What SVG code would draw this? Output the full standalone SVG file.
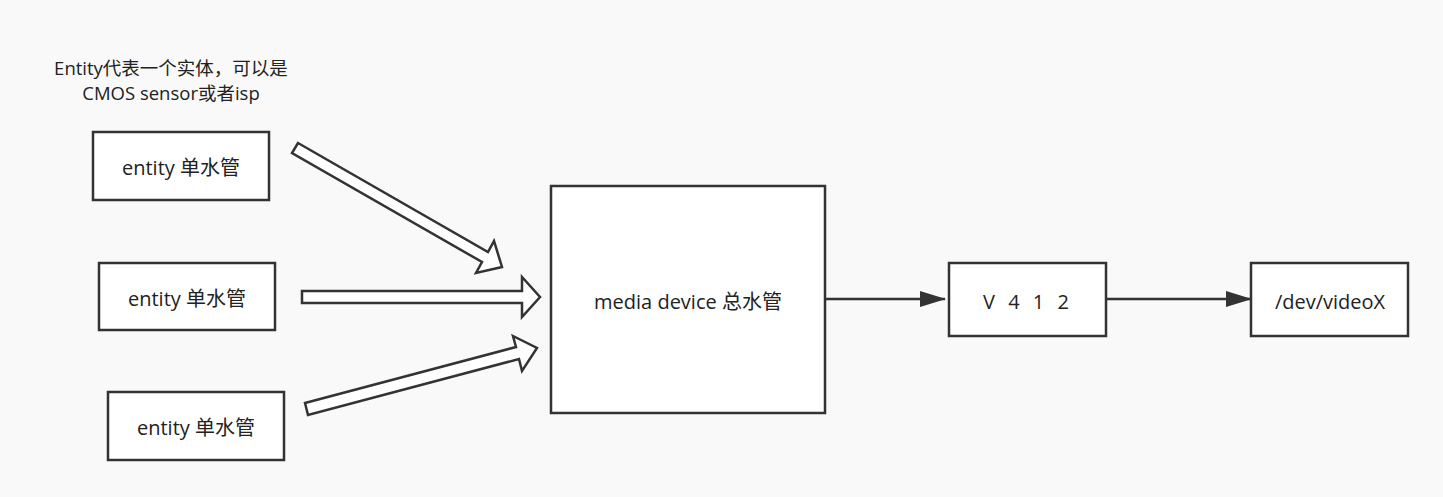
<svg xmlns="http://www.w3.org/2000/svg" width="1443" height="497" viewBox="0 0 1443 497">
<style>
.b{fill:#fff;stroke:#333;stroke-width:2.5}
.t{font-family:"Open Sans","Noto Sans CJK SC",sans-serif;font-size:20px;fill:#222;text-anchor:middle}
.s{font-size:18.5px}
.c{stroke:#333;stroke-width:2.5;fill:none}
</style>
<defs><marker id="a" markerWidth="26" markerHeight="16" refX="25" refY="8" orient="auto" markerUnits="userSpaceOnUse"><path d="M0,0 L26,8 L0,16 Z" fill="#333"/></marker></defs>
<rect width="1443" height="497" fill="#f9f9f9"/>
<text class="t s" x="171" y="75">Entity代表一个实体，可以是</text>
<text class="t s" x="171" y="100">CMOS sensor或者isp</text>
<g id="e1"><rect class="b" x="93" y="132" width="176" height="68"/><text class="t" x="181" y="175">entity 单水管</text></g>
<g id="e2"><rect class="b" x="99" y="263" width="176" height="67"/><text class="t" x="187" y="306">entity 单水管</text></g>
<g id="e3"><rect class="b" x="108" y="392" width="176" height="68"/><text class="t" x="196" y="435">entity 单水管</text></g>
<g id="md"><rect class="b" x="551" y="186" width="274" height="227"/><text class="t" x="688" y="309">media device 总水管</text></g>
<g id="v"><rect class="b" x="949" y="263" width="157" height="73"/><text class="t" x="1028" y="309" letter-spacing="4">V 4 1 2</text></g>
<g id="d"><rect class="b" x="1251" y="263" width="157" height="73"/><text class="t" x="1330" y="309">/dev/videoX</text></g>
<g id="conn">
<polygon class="b" points="298,143 488,252 494,241 502,267 476,273 482,262 292,153"/>
<polygon class="b" points="302,291 522,291 522,277 540,297 522,317 522,303 302,303"/>
<polygon class="b" points="305,403 516,347 513,336 537,348 522,371 519,359 308,415"/>
<line class="c" x1="825" y1="299" x2="945" y2="299" marker-end="url(#a)"/>
<line class="c" x1="1106" y1="299" x2="1251" y2="299" marker-end="url(#a)"/>
</g>
</svg>
